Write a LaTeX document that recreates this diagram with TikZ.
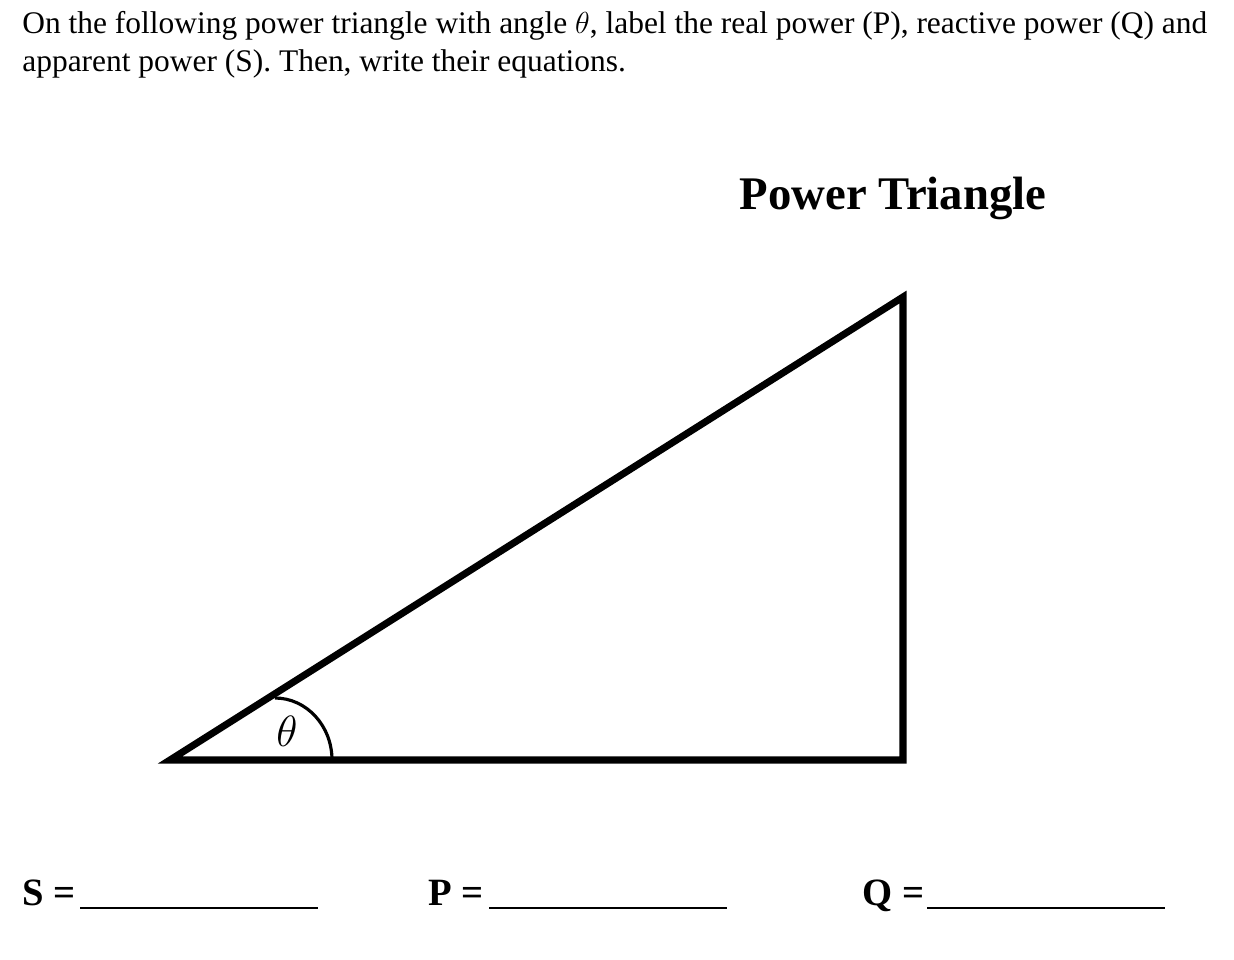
\documentclass[tikz,border=0pt]{standalone}
\usepackage{fontspec}
\setmainfont{Liberation Serif}
\usetikzlibrary{positioning, calc}

\begin{document}
\begin{tikzpicture}[x=0.02cm, y=-0.02cm,
  side/.style={line width=4pt, line join=miter},
  answer/.style={font=\bfseries\fontsize{22}{26}\selectfont, anchor=base west, inner sep=0pt}]
\useasboundingbox (0,0) rectangle (1234,960);
% question text
\node[anchor=north west, align=left, inner sep=0pt, font=\fontsize{17.9}{21.5}\selectfont] (task) at (22,11)
  {On the following power triangle with angle $\theta$, label the real power (P), reactive power (Q) and\\
   apparent power (S). Then, write their equations.};
\node[font=\bfseries\fontsize{26.6}{30}\selectfont] (title) at (893,198) {Power Triangle};
% triangle
\coordinate (A) at (170,760);
\coordinate (B) at (903,760);
\coordinate (C) at (903,297);
\draw[side] (A) -- (B) -- (C) -- cycle;
\draw[line width=1.8pt] (332,760) arc[start angle=0, end angle=-90, x radius=57, y radius=62];
\node[font=\fontsize{30}{34}\selectfont] (theta) at (287,731) {$\theta$};
% equations
\foreach \name/\x/\lx in {S/22/80, P/428/489, Q/862/927} {
  \node[answer] (\name) at (\x,905) {\name{} =};
  \coordinate (\name start) at (\lx,908);
  \draw[line width=1.1pt] (\name start) -- ++(238,0);
}
\end{tikzpicture}
\end{document}
